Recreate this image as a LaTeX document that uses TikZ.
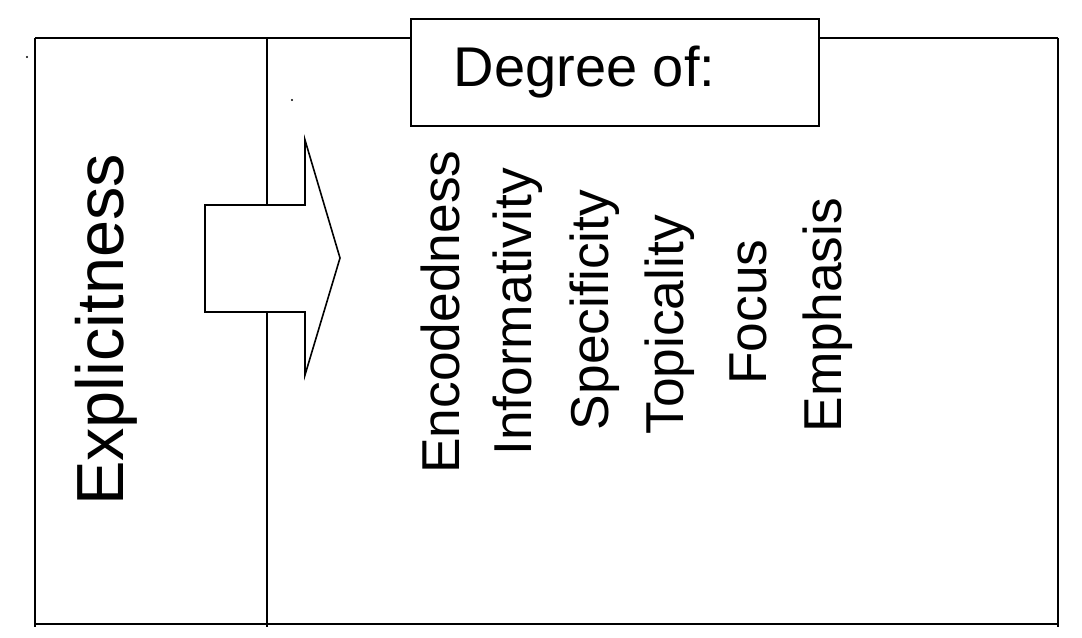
\documentclass[tikz,border=0pt]{standalone}
\usepackage{fontspec}
\setmainfont{Liberation Sans}
\begin{document}
\begin{tikzpicture}[x=0.75pt,y=-0.75pt,line width=1.2pt,
  word/.style={rotate=90,inner sep=0pt,font=\fontsize{40}{46}\selectfont}]
\useasboundingbox (0,0) rectangle (1082,638);
\coordinate (tl) at (35,38); \coordinate (bl) at (35,627);
\coordinate (tr) at (1058,38); \coordinate (br) at (1058,627);
\draw (tl) -- (bl); \draw (tr) -- (br);
\draw (35,624) -- (1058,624);
\draw (267,38) -- (267,627);
\draw (tl) -- (410,38); \draw (818,38) -- (tr);
\node[draw,minimum width=408*0.75pt,minimum height=107*0.75pt,anchor=north west,inner sep=0pt] (deg) at (410,18) {};
\node[anchor=west,inner sep=0pt,font=\fontsize{42}{48}\selectfont] (degt) at (453,72) {Degree of:};
\node[word,font=\fontsize{50}{58}\selectfont] (exp) at (106,330) {Explicitness};
\draw[fill=white] (205,205) -- (305,205) -- (305,140) -- (340,258) -- (305,375) -- (305,312) -- (205,312) -- cycle;
\node[word] (w1) at (440,312) {Encodedness};
\node[word] (w2) at (518,312) {Informativity};
\node[word] (w3) at (595,310) {Specificity};
\node[word] (w4) at (670,325) {Topicality};
\node[word] (w5) at (748,312) {Focus};
\node[word] (w6) at (828,315) {Emphasis};
\fill (27,57) circle (1.2); \fill (292,100) circle (1.2);
\end{tikzpicture}
\end{document}
